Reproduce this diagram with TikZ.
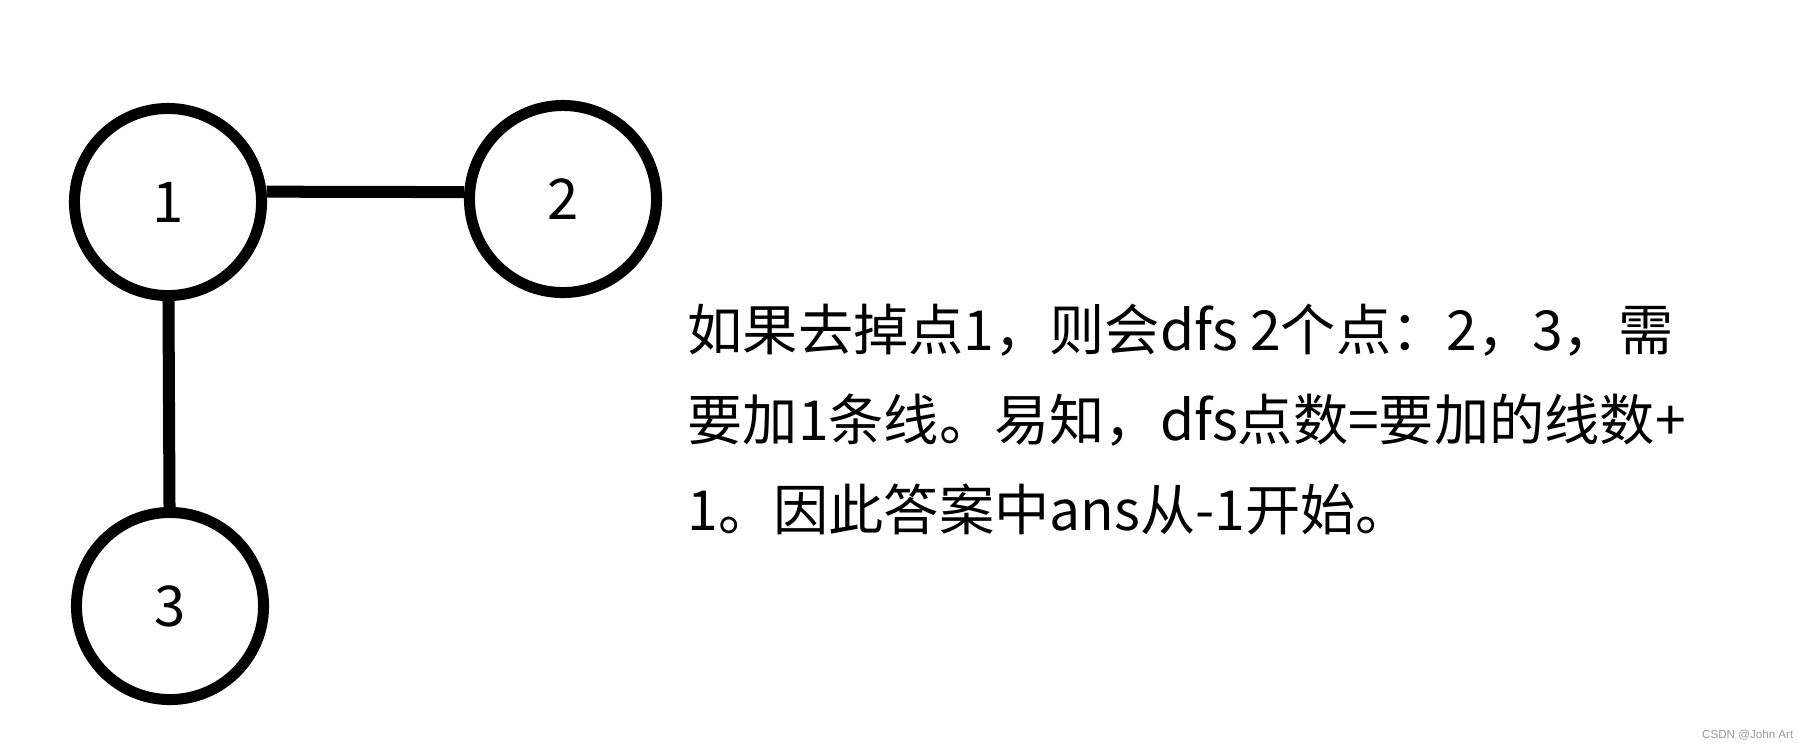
\documentclass[tikz,border=0pt]{standalone}
\usepackage{fontspec}
\setmainfont{Noto Sans CJK SC}
\newfontfamily\wmfont{Liberation Sans}
\begin{document}
\begin{tikzpicture}[x=0.01cm,y=-0.01cm,
  vtx/.style={circle,draw,line width=0.11cm,minimum size=1.87cm,inner sep=0pt,font=\fontsize{16pt}{18pt}\selectfont},
  edge/.style={line width=0.12cm},
  txt/.style={anchor=west,inner sep=0pt,font=\fontsize{15.7pt}{18pt}\selectfont},
  wm/.style={anchor=east,inner sep=0pt,text=black!40,font=\wmfont\fontsize{3.3pt}{4pt}\selectfont}]
\useasboundingbox[fill=white] (0,0) rectangle (1810,750);
\node[vtx] (n1) at (168,202) {1};
\node[vtx] (n2) at (563,199) {2};
\node[vtx] (n3) at (170,606) {3};
\draw[edge] (n1.6) -- (n2.176);
\draw[edge] (n1) -- (n3);
\node[txt] (l1) at (687,330) {如果去掉点1，则会dfs 2个点：2，3，需};
\node[txt] (l2) at (687,420) {要加1条线。易知，dfs点数=要加的线数+};
\node[txt] (l3) at (687,509) {1。因此答案中ans从-1开始。};
\node[wm] (wm) at (1794,735) {CSDN @John Art};
\end{tikzpicture}
\end{document}
